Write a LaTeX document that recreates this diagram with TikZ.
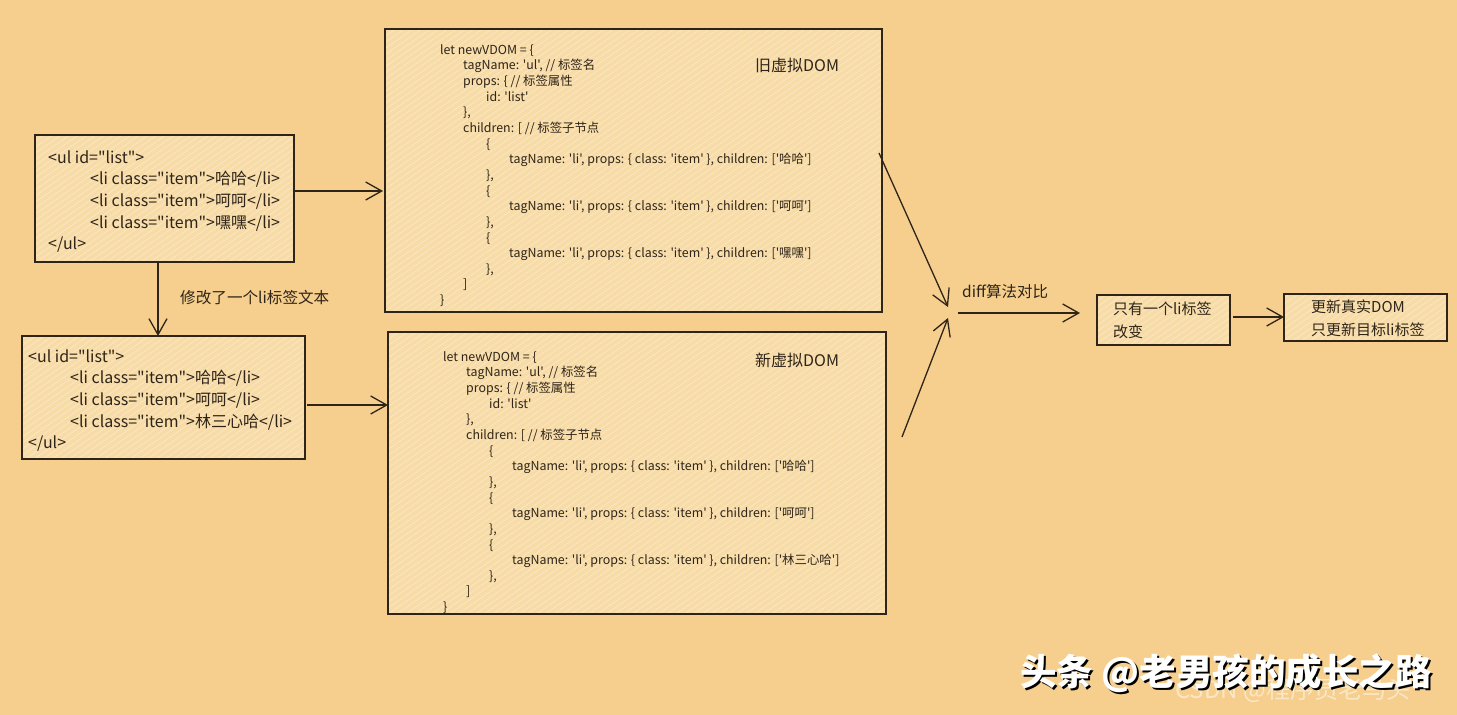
\documentclass[tikz,border=0pt]{standalone}
\usepackage{fontspec}
\setmainfont{Noto Sans CJK SC}[Ligatures=TeXOff]
\usetikzlibrary{arrows.meta,patterns.meta}
\definecolor{bg}{HTML}{F6CF8E}
\definecolor{boxfill}{HTML}{F8DCA8}
\definecolor{hatch}{HTML}{FBE8C6}
\definecolor{ink}{HTML}{2E2418}
\newcommand\ind[1]{\hspace*{#1pt}}
\tikzset{
  box/.style={preaction={fill=boxfill}, pattern={Lines[angle=35,distance=5pt,line width=0.7pt]}, pattern color=hatch, draw=ink, line width=1.3pt, inner sep=0pt, outer sep=0pt},
  arr/.style={draw=ink, line width=1.3pt, -{Straight Barb[length=16pt,width=18pt]}},
  codetxt/.style={anchor=north west, inner sep=0pt, align=left, text=ink, font=\fontsize{12.4}{15.65}\selectfont},
  htmltxt/.style={anchor=north west, inner sep=0pt, align=left, text=ink, font=\fontsize{16}{21.6}\selectfont},
  lbl/.style={anchor=west, inner sep=0pt, align=left, text=ink, font=\fontsize{15}{23}\selectfont},
  ttl/.style={anchor=west, inner sep=0pt, text=ink, font=\fontsize{16}{18}\selectfont}
}
\begin{document}
\begin{tikzpicture}[x=1pt,y=-1pt]
\fill[bg] (0,0) rectangle (1457,715);
\useasboundingbox (0,0) rectangle (1457,715);

% boxes
\node[box, minimum width=259pt, minimum height=127pt] (html1) at (164.5,198.5) {};
\node[box, minimum width=283pt, minimum height=123pt] (html2) at (163.5,397.5) {};
\node[box, minimum width=497pt, minimum height=283pt] (vdom1) at (633.5,170.5) {};
\node[box, minimum width=498pt, minimum height=282pt] (vdom2) at (637,473) {};
\node[box, minimum width=133pt, minimum height=50pt] (res1) at (1163.5,320) {};
\node[box, minimum width=163pt, minimum height=47pt] (res2) at (1365.5,317.5) {};

% html texts
\node[htmltxt] (html1txt) at (48,149) {\rule{0pt}{14pt}<ul id="list">\\
\ind{42}<li class="item">哈哈</li>\\
\ind{42}<li class="item">呵呵</li>\\
\ind{42}<li class="item">嘿嘿</li>\\
</ul>};
\node[htmltxt] (html2txt) at (28,348) {\rule{0pt}{14pt}<ul id="list">\\
\ind{42}<li class="item">哈哈</li>\\
\ind{42}<li class="item">呵呵</li>\\
\ind{42}<li class="item">林三心哈</li>\\
</ul>};

% code texts
\node[codetxt] (code1) at (440,43) {\rule{0pt}{11pt}let newVDOM = \{\\
\ind{23}tagName: 'ul', // 标签名\\
\ind{23}props: \{ // 标签属性\\
\ind{46}id: 'list'\\
\ind{23}\},\\
\ind{23}children: [ // 标签子节点\\
\ind{46}\{\\
\ind{69}tagName: 'li', props: \{ class: 'item' \}, children: ['哈哈']\\
\ind{46}\},\\
\ind{46}\{\\
\ind{69}tagName: 'li', props: \{ class: 'item' \}, children: ['呵呵']\\
\ind{46}\},\\
\ind{46}\{\\
\ind{69}tagName: 'li', props: \{ class: 'item' \}, children: ['嘿嘿']\\
\ind{46}\},\\
\ind{23}]\\
\}};
\node[codetxt] (code2) at (443,350) {\rule{0pt}{11pt}let newVDOM = \{\\
\ind{23}tagName: 'ul', // 标签名\\
\ind{23}props: \{ // 标签属性\\
\ind{46}id: 'list'\\
\ind{23}\},\\
\ind{23}children: [ // 标签子节点\\
\ind{46}\{\\
\ind{69}tagName: 'li', props: \{ class: 'item' \}, children: ['哈哈']\\
\ind{46}\},\\
\ind{46}\{\\
\ind{69}tagName: 'li', props: \{ class: 'item' \}, children: ['呵呵']\\
\ind{46}\},\\
\ind{46}\{\\
\ind{69}tagName: 'li', props: \{ class: 'item' \}, children: ['林三心哈']\\
\ind{46}\},\\
\ind{23}]\\
\}};

% titles
\node[ttl] (t1) at (755,65) {旧虚拟DOM};
\node[ttl] (t2) at (755,360) {新虚拟DOM};

% result texts
\node[lbl] (res1txt) at (1113,320.5) {只有一个li标签\\改变};
\node[lbl] (res2txt) at (1311,318.5) {更新真实DOM\\只更新目标li标签};

% labels
\node[lbl, font=\fontsize{15.6}{18}\selectfont] (modlbl) at (180,298) {修改了一个li标签文本};
\node[lbl, font=\fontsize{15.5}{18}\selectfont] (difflbl) at (962,292) {diff算法对比};

% connectors
\coordinate (a1s) at ([yshift=7.5pt]html1.east);
\draw[arr] (a1s) -- ([xshift=-2pt]a1s -| vdom1.west);
\coordinate (a2s) at ([xshift=-6.5pt]html1.south);
\draw[arr] (a2s) -- (a2s |- html2.north);
\coordinate (a3s) at ([yshift=-7.5pt]html2.east);
\draw[arr] ([xshift=2pt]a3s) -- (a3s -| vdom2.west);
\coordinate (mergeT) at (948,307);
\coordinate (mergeB) at (948,318);
\draw[arr] ([xshift=-3pt,yshift=17.5pt]vdom1.east) -- (mergeT);
\draw[arr] ([xshift=16pt,yshift=36pt]vdom2.east) -- (mergeB);
\coordinate (diffs) at (958,313);
\draw[arr] (diffs) -- ([xshift=-17pt]diffs -| res1.west);
\draw[arr] ([xshift=3pt,yshift=3pt]res1.east) -- ([yshift=3pt]res1.east -| res2.west);

% watermarks
\node[anchor=west, inner sep=0pt, text=white, opacity=0.5, font=\fontsize{24}{28}\selectfont] (wm2) at (1175,690) {CSDN @程序员老马头};
\node[anchor=west, inner sep=0pt, text=black, font=\fontsize{36.5}{40}\selectfont\bfseries] (wmshadow) at (1022,675) {头条 @老男孩的成长之路};
\node[anchor=west, inner sep=0pt, text=white, font=\fontsize{36.5}{40}\selectfont\bfseries] (wm) at (1020,673) {头条 @老男孩的成长之路};
\end{tikzpicture}
\end{document}
